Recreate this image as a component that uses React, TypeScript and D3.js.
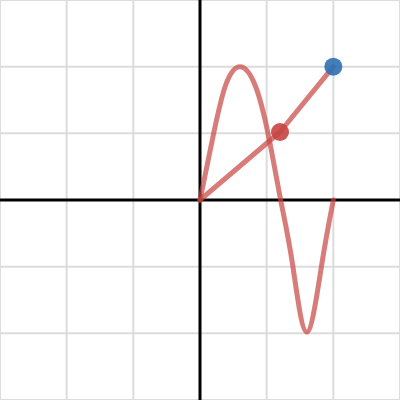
import React, { useEffect, useRef } from 'react'
import * as d3 from 'd3'

// grid positions (every unit from -3 to 3)
const gridTicks = [-3, -2, -1, 0, 1, 2, 3]

// wave curve, points
const curveX = [0, 0.2, 0.385, 0.6, 0.825, 1.025, 1.21, 1.39, 1.6, 1.825, 2.0]
const curveY = [0, 0.975, 1.725, 2.0, 1.725, 0.975, 0, -0.975, -1.98, -0.975, 0]

// polyline through origin, red point, blue point
const pathX = [0, 1.2, 2]
const pathY = [0, 1.02, 2]

const pointX = [1.2, 2]
const pointY = [1.02, 2]
const pointColors = ['#c74440', '#2d70b3']

const App = () => {
  const ref = useRef<SVGSVGElement>(null)

  useEffect(() => {
    const size = 400
    const svg = d3.select(ref.current)
    svg.selectAll('*').remove()

    const x = d3.scaleLinear().domain([-3, 3]).range([0, size])
    const y = d3.scaleLinear().domain([-3, 3]).range([size, 0])

    // grid
    svg
      .append('g')
      .selectAll('line')
      .data(gridTicks)
      .join('line')
      .attr('x1', (d) => x(d))
      .attr('x2', (d) => x(d))
      .attr('y1', 0)
      .attr('y2', size)
      .attr('stroke', '#dcdcdc')
      .attr('stroke-width', 2)
    svg
      .append('g')
      .selectAll('line')
      .data(gridTicks)
      .join('line')
      .attr('y1', (d) => y(d))
      .attr('y2', (d) => y(d))
      .attr('x1', 0)
      .attr('x2', size)
      .attr('stroke', '#dcdcdc')
      .attr('stroke-width', 2)

    // axes
    svg.append('line').attr('x1', 0).attr('x2', size).attr('y1', y(0)).attr('y2', y(0)).attr('stroke', '#000').attr('stroke-width', 3)
    svg.append('line').attr('y1', 0).attr('y2', size).attr('x1', x(0)).attr('x2', x(0)).attr('stroke', '#000').attr('stroke-width', 3)

    const line = d3
      .line<number>()
      .x((d, i) => x(curveX[i]))
      .y((d, i) => y(curveY[i]))
      .curve(d3.curveNatural)

    svg
      .append('path')
      .datum(curveY)
      .attr('fill', 'none')
      .attr('stroke', '#c74440')
      .attr('stroke-opacity', 0.7)
      .attr('stroke-width', 5)
      .attr('stroke-linecap', 'round')
      .attr('d', line)

    const segs = d3
      .line<number>()
      .x((d, i) => x(pathX[i]))
      .y((d, i) => y(pathY[i]))

    svg
      .append('path')
      .datum(pathY)
      .attr('fill', 'none')
      .attr('stroke', '#c74440')
      .attr('stroke-opacity', 0.7)
      .attr('stroke-width', 5)
      .attr('stroke-linecap', 'round')
      .attr('stroke-linejoin', 'round')
      .attr('d', segs)

    svg
      .append('g')
      .selectAll('circle')
      .data(pointX)
      .join('circle')
      .attr('cx', (d) => x(d))
      .attr('cy', (d, i) => y(pointY[i]))
      .attr('r', 9)
      .attr('fill', (d, i) => pointColors[i])
      .attr('fill-opacity', 0.9)
  })

  return (
    <div style={{ position: 'fixed', left: 0, top: 0, width: 400, height: 400, background: '#fff' }}>
      <svg ref={ref} width={400} height={400} style={{ display: 'block' }} />
    </div>
  )
}

export default App
